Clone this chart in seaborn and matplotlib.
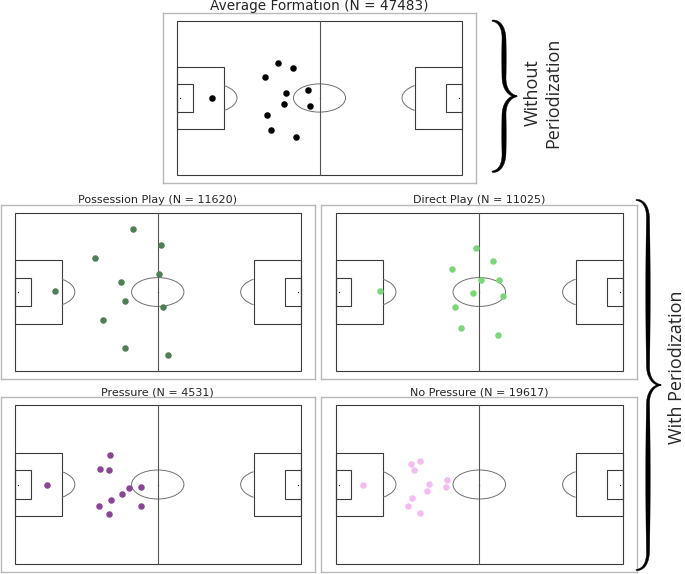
import numpy as np
import pandas as pd
import seaborn as sns
import matplotlib.pyplot as plt
from matplotlib.patches import Rectangle, Arc, Circle, Polygon

# Average player positions, pitch scaled to 0-100 on both axes
avg_x = [12.1, 35.3, 40.8, 31.0, 38.4, 46.0, 37.6, 46.6, 31.6, 33.1, 41.8]
avg_y = [49.9, 72.7, 69.8, 63.6, 53.1, 55.3, 46.2, 44.9, 38.8, 28.9, 24.5]

poss_x = [14.1, 41.4, 51.2, 27.9, 50.5, 37.3, 38.7, 51.9, 30.7, 38.5, 53.5]
poss_y = [50.5, 89.9, 80.0, 71.8, 61.5, 56.4, 44.4, 40.2, 32.0, 14.3, 9.9]

direct_x = [15.3, 48.8, 54.8, 40.5, 50.5, 56.9, 47.8, 58.3, 41.6, 43.6, 56.6]
direct_y = [50.9, 77.9, 69.9, 64.8, 57.3, 57.9, 49.1, 47.2, 40.2, 26.9, 22.5]

press_x = [11.2, 33.4, 29.7, 32.8, 44.1, 40.0, 37.6, 33.7, 29.5, 44.2, 33.1]
press_y = [49.8, 68.4, 59.5, 59.1, 48.3, 47.7, 44.1, 40.5, 36.3, 36.3, 31.4]

nopress_x = [9.4, 29.5, 26.2, 27.4, 38.8, 32.6, 38.3, 31.9, 26.5, 25.2, 29.3]
nopress_y = [49.6, 65.0, 62.9, 59.1, 52.7, 50.4, 48.5, 46.2, 41.4, 36.3, 32.1]

titles = ["Average Formation", "Possession Play", "Direct Play", "Pressure", "No Pressure"]
counts = [47483, 11620, 11025, 4531, 19617]
colors = ["#000000", "#4f7f55", "#7ad87a", "#8a4596", "#f3bcf3"]

W, H = 685, 574


def draw_pitch(ax):
    line = "#3a3a3a"
    soft = "#707070"
    ax.add_patch(Rectangle((0, 0), 100, 100, fill=False, ec=line, lw=0.8))
    ax.plot([50, 50], [0, 100], color="#555555", lw=0.8)
    ax.add_patch(Circle((50, 50), 9.15, fill=False, ec=soft, lw=0.7))
    ax.scatter([50, 1.1, 98.9], [50, 50, 50], s=1, color="black", lw=0)
    # boxes
    ax.add_patch(Rectangle((0, 29.85), 16.5, 40.3, fill=False, ec=line, lw=0.8))
    ax.add_patch(Rectangle((83.5, 29.85), 16.5, 40.3, fill=False, ec=line, lw=0.8))
    ax.add_patch(Rectangle((0, 40.85), 5.5, 18.3, fill=False, ec=line, lw=0.8))
    ax.add_patch(Rectangle((94.5, 40.85), 5.5, 18.3, fill=False, ec=line, lw=0.8))
    ang = np.degrees(np.arccos(5 / 9.5))
    ax.add_patch(Arc((11.5, 50), 19, 19, theta1=-ang, theta2=ang, ec=soft, lw=0.7))
    ax.add_patch(Arc((88.5, 50), 19, 19, theta1=180 - ang, theta2=180 + ang, ec=soft, lw=0.7))
    ax.set_xlim(-5, 105)
    ax.set_ylim(-5, 105)
    ax.set_xticks([])
    ax.set_yticks([])
    for sp in ax.spines.values():
        sp.set_color("#b8b8b8")
        sp.set_linewidth(1.0)


def bez(p0, p1, p2, p3, n=40):
    t = np.linspace(0, 1, n)[:, None]
    return ((1 - t) ** 3 * p0 + 3 * (1 - t) ** 2 * t * p1
            + 3 * (1 - t) * t ** 2 * p2 + t ** 3 * p3)


def add_brace(fig, x0, x1, y0, y1, wmax=4.4, wmin=0.8):
    # right-pointing curly brace, pixel box with top-left origin
    ym = (y0 + y1) / 2
    xs = x0 + 0.48 * (x1 - x0)
    r = 0.75 * (x1 - x0)
    P = lambda a, b: np.array([a, b], dtype=float)
    for sgn, ya in ((1, y0), (-1, y1)):
        a = bez(P(x0, ya), P(x0 + 0.6 * (xs - x0), ya),
                P(xs, ya + sgn * 0.35 * r), P(xs, ya + sgn * r))
        b = np.linspace(P(xs, ya + sgn * r), P(xs, ym - sgn * r), 40)
        c = bez(P(xs, ym - sgn * r), P(xs, ym - sgn * 0.35 * r),
                P(xs + 0.5 * (x1 - xs), ym), P(x1, ym))
        pts = np.vstack([a, b[1:], c[1:]])
        seg = np.r_[0, np.cumsum(np.hypot(*np.diff(pts, axis=0).T))]
        s = seg / seg[-1]
        hw = 0.5 * (wmin + (wmax - wmin) * np.sin(np.pi * s) ** 0.5)
        d = np.gradient(pts, axis=0)
        nrm = np.c_[-d[:, 1], d[:, 0]] / np.hypot(d[:, 0], d[:, 1])[:, None]
        poly = np.vstack([pts + nrm * hw[:, None], (pts - nrm * hw[:, None])[::-1]])
        fx = poly[:, 0] / W
        fy = 1 - poly[:, 1] / H
        fig.add_artist(Polygon(np.c_[fx, fy], closed=True, transform=fig.transFigure,
                               fc="black", ec="black", lw=0.3))


def main():
    sns.set_style("white")
    plt.rcParams["font.family"] = ["DejaVu Sans"]

    fig = plt.figure(figsize=(W / 100, H / 100), dpi=100)

    # axes boxes in pixels: left, top, right, bottom
    boxes = [
        (163, 13.3, 476, 182.7),
        (0.5, 205.3, 315, 378.7),
        (321.3, 205.3, 637.3, 378.7),
        (0.5, 397.3, 315, 571.7),
        (321.3, 397.3, 637.3, 571.7),
    ]
    xs = [avg_x, poss_x, direct_x, press_x, nopress_x]
    ys = [avg_y, poss_y, direct_y, press_y, nopress_y]

    for i, (l, t, r, b) in enumerate(boxes):
        ax = fig.add_axes([l / W, 1 - b / H, (r - l) / W, (b - t) / H])
        draw_pitch(ax)
        df = pd.DataFrame({"x": xs[i], "y": ys[i]})
        sns.scatterplot(data=df, x="x", y="y", color=colors[i], s=22,
                        linewidth=0, ax=ax, legend=False, zorder=3)
        ax.set_xlabel("")
        ax.set_ylabel("")
        fs = 9.8 if i == 0 else 8
        ax.set_title(f"{titles[i]} (N = {counts[i]})", fontsize=fs, pad=1.5)

    add_brace(fig, 492, 517, 20.7, 171.7)
    add_brace(fig, 636, 661, 200, 570)

    fig.text(543 / W, 1 - 92.5 / H, "Without\nPeriodization", rotation=90,
             ha="center", va="center", fontsize=13, family="Open Sans",
             multialignment="center")
    fig.text(677 / W, 1 - 367 / H, "With Periodization", rotation=90,
             ha="center", va="center", fontsize=13, family="Open Sans")

    fig.savefig("out.png", dpi=100)


if __name__ == "__main__":
    main()
